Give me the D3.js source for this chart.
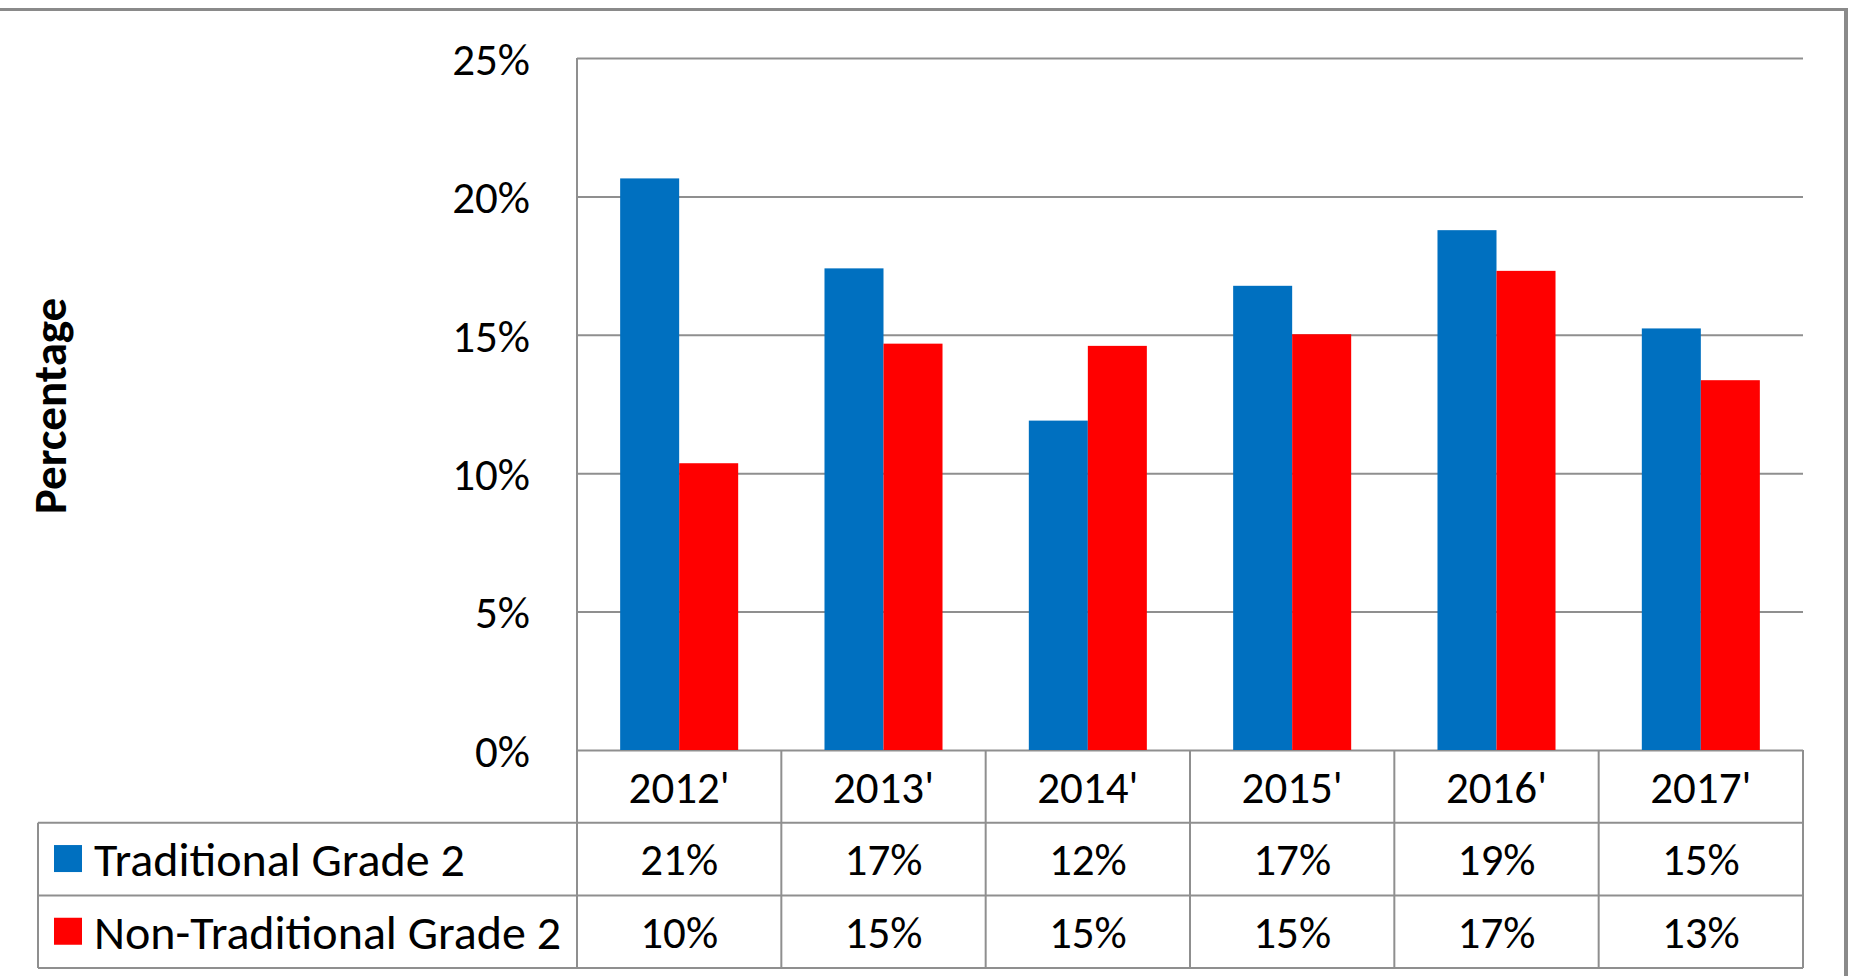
<!DOCTYPE html>
<html>
<head>
<meta charset="utf-8">
<script src="https://cdn.jsdelivr.net/npm/d3@7"></script>
<style>
  body { margin: 0; background: #fff; }
  text { font-family: Carlito, Calibri, Lato, sans-serif; fill: #000; }
</style>
</head>
<body>
<script>
// data
var categories = ["2012'", "2013'", "2014'", "2015'", "2016'", "2017'"];
var seriesNames = ["Traditional Grade 2", "Non-Traditional Grade 2"];
var traditional = [0.2065, 0.174, 0.119, 0.1677, 0.1878, 0.1523];
var nonTraditional = [0.1036, 0.1468, 0.146, 0.1502, 0.1731, 0.1336];
var yTicks = [0, 0.05, 0.10, 0.15, 0.20, 0.25];
var colors = ["#0070c0", "#ff0000"];

var width = 1863, height = 976;
var plotLeft = 577, plotRight = 1803, plotTop = 58, plotBottom = 750;
var rowH = 72.7;
var tableLeft = 38;
var gridColor = "#8f8f8f";
var fontSize = 45;

var svg = d3.select("body").append("svg").attr("width", width).attr("height", height);

var xCol = d3.scaleBand().domain(categories).range([plotLeft, plotRight]);
var x = d3.scaleBand().domain(categories).range([plotLeft, plotRight]).paddingInner(0.4224).paddingOuter(0.2112);
var xSub = d3.scaleBand().domain(seriesNames).range([0, x.bandwidth()]);
var y = d3.scaleLinear().domain([0, 0.25]).range([plotBottom, plotTop]);
var pct = d3.format(".0%");

// gridlines + y labels
var yAxis = svg.append("g")
  .attr("transform", "translate(" + plotLeft + ",0)")
  .call(d3.axisLeft(y).tickValues(yTicks).tickFormat(pct).tickSize(-(plotRight - plotLeft)).tickPadding(47));
yAxis.select(".domain").remove();
yAxis.selectAll(".tick line").attr("stroke", gridColor).attr("stroke-width", 2);
yAxis.selectAll(".tick text")
  .attr("dy", "0.36em")
  .style("font-size", fontSize + "px")
  .style("font-family", "Carlito, Calibri, Lato, sans-serif")
  .attr("fill", "#000");

// bars
var series = [traditional, nonTraditional];
series.forEach(function(vals, s) {
  svg.append("g").selectAll("rect")
    .data(vals)
    .join("rect")
    .attr("x", function(d, i) { return x(categories[i]) + xSub(seriesNames[s]); })
    .attr("width", xSub.bandwidth())
    .attr("y", function(d) { return y(d); })
    .attr("height", function(d) { return y(0) - y(d); })
    .attr("fill", colors[s]);
});

// data table
var rowTops = [plotBottom, plotBottom + rowH, plotBottom + 2 * rowH];
var tableBottom = plotBottom + 3 * rowH;
var tg = svg.append("g");

tg.append("line").attr("x1", plotLeft).attr("x2", plotLeft).attr("y1", plotTop).attr("y2", tableBottom);
categories.forEach(function(c) {
  tg.append("line").attr("x1", xCol(c) + xCol.bandwidth()).attr("x2", xCol(c) + xCol.bandwidth())
    .attr("y1", plotBottom).attr("y2", tableBottom);
});
tg.append("line").attr("x1", tableLeft).attr("x2", tableLeft).attr("y1", rowTops[1]).attr("y2", tableBottom);
[rowTops[1], rowTops[2], tableBottom].forEach(function(yy) {
  tg.append("line").attr("x1", tableLeft).attr("x2", plotRight).attr("y1", yy).attr("y2", yy);
});
tg.selectAll("line").attr("stroke", gridColor).attr("stroke-width", 2);

// header row
tg.selectAll("text.cat")
  .data(categories)
  .join("text")
  .attr("class", "cat")
  .attr("x", function(d) { return xCol(d) + xCol.bandwidth() / 2; })
  .attr("y", rowTops[0] + rowH / 2)
  .attr("dy", "0.36em")
  .attr("text-anchor", "middle")
  .style("font-size", fontSize + "px")
  .text(function(d) { return d; });

// value rows with legend keys
series.forEach(function(vals, s) {
  var cy = rowTops[s + 1] + rowH / 2;
  tg.append("rect").attr("x", 54).attr("y", cy - 14).attr("width", 28).attr("height", 27).attr("fill", colors[s]);
  tg.append("text").attr("x", 94).attr("y", cy).attr("dy", "0.35em")
    .style("font-size", "48px").text(seriesNames[s]);
  tg.append("g").selectAll("text")
    .data(vals)
    .join("text")
    .attr("x", function(d, i) { return xCol(categories[i]) + xCol.bandwidth() / 2; })
    .attr("y", cy)
    .attr("dy", "0.36em")
    .attr("text-anchor", "middle")
    .style("font-size", fontSize + "px")
    .text(function(d) { return pct(d); });
});

// axis title
svg.append("text")
  .attr("transform", "translate(66,406) rotate(-90)")
  .attr("text-anchor", "middle")
  .style("font-size", "47px")
  .style("font-weight", "bold")
  .text("Percentage");

// chart frame (only top and right edges show)
svg.append("line").attr("x1", 0).attr("x2", 1848).attr("y1", 9.5).attr("y2", 9.5)
  .attr("stroke", "#8a8a8a").attr("stroke-width", 3);
svg.append("line").attr("x1", 1846).attr("x2", 1846).attr("y1", 8).attr("y2", height)
  .attr("stroke", "#8a8a8a").attr("stroke-width", 4);
</script>
</body>
</html>
